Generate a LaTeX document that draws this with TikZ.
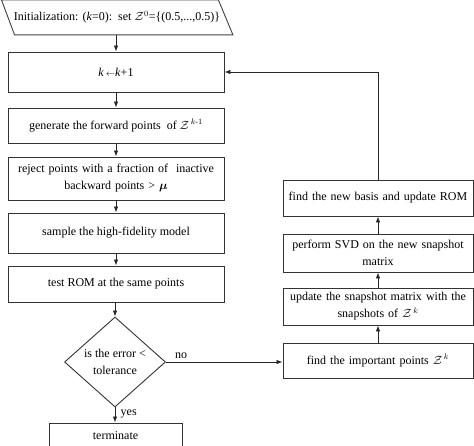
\documentclass[tikz,border=0pt]{standalone}
\usepackage{amsmath}
\usepackage{fontspec}
\setmainfont{Liberation Serif}
\usetikzlibrary{shapes.geometric,arrows.meta,calc}
\begin{document}
\begin{tikzpicture}[x=1pt,y=-1pt,
  font=\fontsize{12}{17}\selectfont,
  line width=0.9pt,
  procbox/.style={draw=black!80,rectangle,align=center,inner sep=0pt},
  lbox/.style={procbox,minimum width=216pt},
  rbox/.style={procbox,minimum width=190pt,text width=186pt},
  arr/.style={-{Latex[length=6pt,width=4.5pt]},line width=0.8pt,draw=black!85},
  plain/.style={line width=0.9pt,draw=black!75}]
\useasboundingbox (0,0) rectangle (474,446);
% left column
\node[inner sep=0pt,minimum width=217pt,minimum height=34pt] (init) at (117,17.5) {Initialization: (\textit{k}=0):~~set $\mathcal{Z}^{0}$=\{(0.5,...,0.5)\}};
\draw[plain] ($(init.south west)+(6.5,0)$) -- ($(init.south east)+(7,0)$) -- ($(init.north east)+(-7.5,0)$) -- ($(init.north west)+(-6.5,0)$) -- cycle;
\node[lbox,minimum height=40pt] (kbox) at (116,72) {\textit{k}\,{\small$\leftarrow$}\textit{k}+1};
\node[lbox,minimum height=35pt] (gen) at (116,125.5) {generate the forward points~ of $\mathcal{Z}^{\,k\text{-}1}$};
\node[lbox,minimum height=43pt,text width=212pt] (rej) at (116,178.5) {reject points with a fraction of~ inactive\\backward points > $\boldsymbol{\mu}$};
\node[lbox,minimum height=40pt] (samp) at (116,233) {sample the high-fidelity model};
\node[lbox,minimum height=36pt] (test) at (116,284) {test ROM at the same points};
\node[draw=black!80,diamond,minimum width=101pt,minimum height=90pt,inner sep=0pt,align=center] (dec) at (115,362) {is the error <\\tolerance};
\node[procbox,minimum width=133pt,minimum height=26pt] (term) at (115.5,436) {terminate};
% right column
\node[rbox,minimum height=36pt] (basis) at (378,198) {find the new basis and update ROM};
\node[rbox,minimum height=38pt] (svd) at (378,253) {perform SVD on the new snapshot\\matrix};
\node[rbox,minimum height=37pt] (upd) at (378,306.5) {update the snapshot matrix with the\\snapshots of $\mathcal{Z}^{\,k}$};
\node[rbox,minimum height=35pt] (imp) at (378,360.5) {find the important points $\mathcal{Z}^{\,k}$};
% connectors
\draw[arr] (init.south -| kbox.north) -- (kbox.north);
\draw[arr] (kbox.south) -- (gen.north);
\draw[arr] (gen.south) -- (rej.north);
\draw[arr] (rej.south) -- (samp.north);
\draw[arr] (samp.south) -- (test.north);
\draw[arr] (test.south -| dec.north) -- (dec.north);
\draw[arr] (dec.south) -- node[right,pos=0.45,xshift=2pt] {yes} (dec.south |- term.north);
\draw[arr] (dec.east) -- node[above,pos=0.13] {no} (dec.east -| imp.west);
\draw[arr] (imp.north) -- (upd.south);
\draw[arr] (upd.north) -- (svd.south);
\draw[arr] (svd.north) -- (basis.south);
\draw[arr] (basis.north) |- (kbox.east);
\end{tikzpicture}
\end{document}
